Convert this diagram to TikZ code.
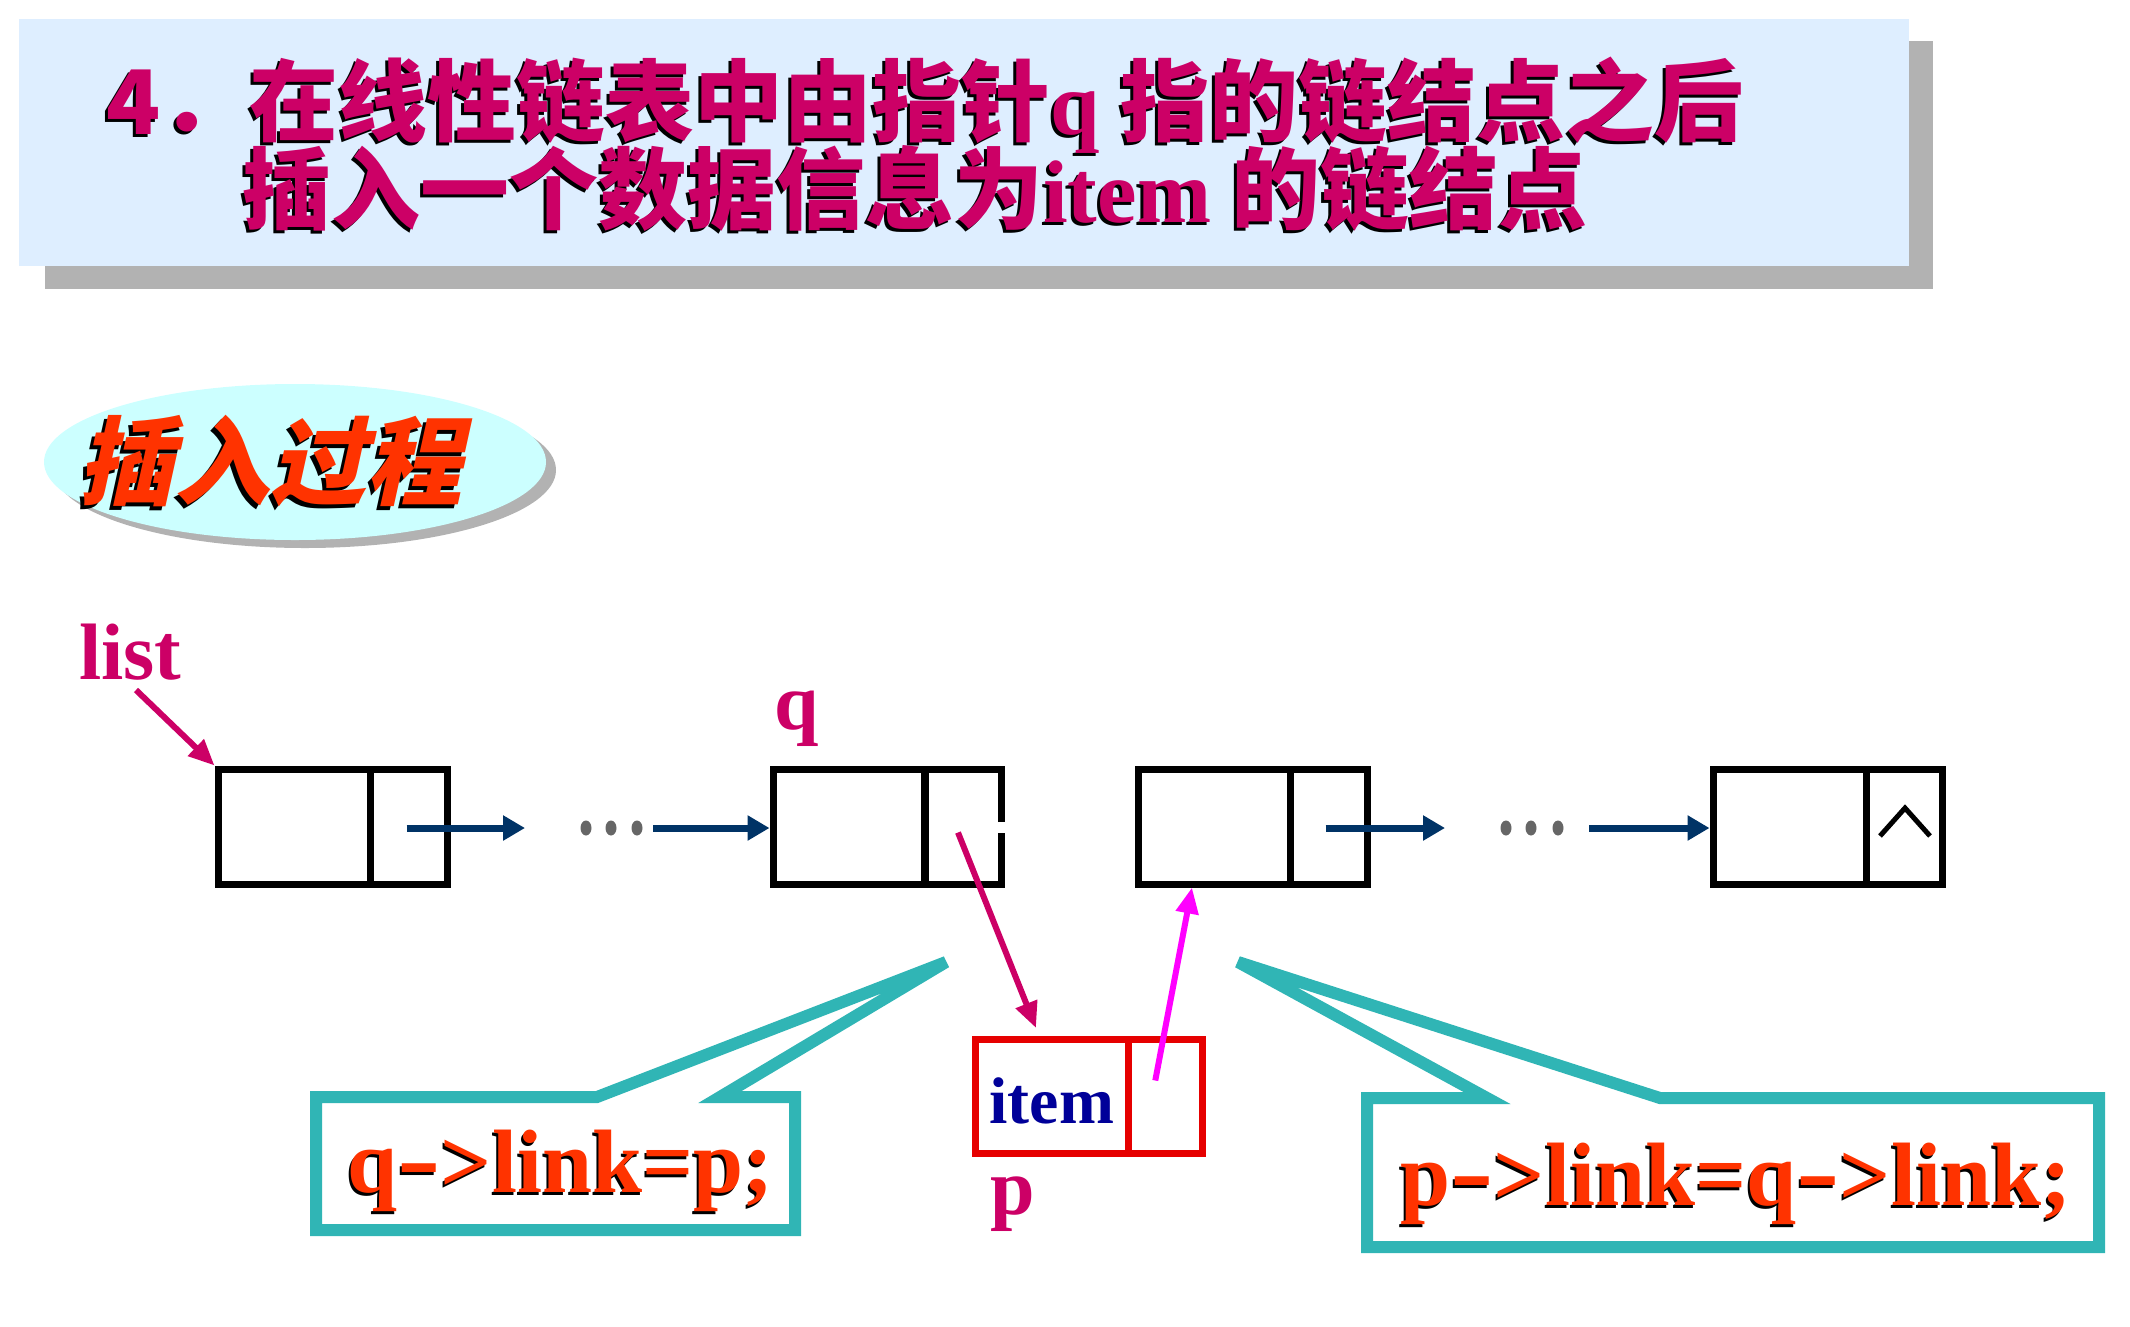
\documentclass[tikz,border=0pt]{standalone}
\usepackage{fontspec}
\setmainfont{Liberation Serif}
\newfontfamily\cjk{Noto Sans CJK SC}
\newfontfamily\cjksl[FakeSlant=0.22]{Noto Sans CJK SC}
\usetikzlibrary{arrows.meta,shapes.geometric}
\definecolor{titlebg}{HTML}{DEEEFF}
\definecolor{shadowgray}{HTML}{B2B2B2}
\definecolor{crimson}{HTML}{CC0066}
\definecolor{ovalbg}{HTML}{CCFFFF}
\definecolor{orangered}{HTML}{FF3300}
\definecolor{navy}{HTML}{003366}
\definecolor{tealc}{HTML}{30B5B5}
\definecolor{itemblue}{HTML}{000099}
\definecolor{boxred}{HTML}{E60000}
\definecolor{dotgray}{HTML}{666666}
\definecolor{pinkc}{HTML}{FF00FF}
\newcommand\wdash{\scalebox{1.45}[1.15]{-}}
\begin{document}
\begin{tikzpicture}[x=1pt,y=-1pt,
  cell/.style={draw=black,line width=7pt,minimum height=115pt,inner sep=0pt},
  datacell/.style={cell,minimum width=152pt},
  ptrcell/.style={cell,minimum width=77pt},
  redcell/.style={draw=boxred,line width=7pt,minimum height=114pt,inner sep=0pt},
  navyarr/.style={draw=navy,line width=7pt,-{Triangle[length=22pt,width=24pt]}},
  crimarr/.style={draw=crimson,line width=6pt,-{Triangle[length=26pt,width=22pt]}},
  pinkarr/.style={draw=pinkc,line width=6pt,-{Triangle[length=26pt,width=22pt]}},
  callout/.style={draw=tealc,fill=white,line width=12pt},
  titletxt/.style={anchor=base west,inner sep=0pt,font=\fontsize{89pt}{89pt}\selectfont\cjk\bfseries},
  ptrlabel/.style={anchor=base,inner sep=0pt,text=crimson,font=\fontsize{80pt}{80pt}\selectfont\bfseries},
  codetxt/.style={anchor=base west,inner sep=0pt,font=\fontsize{90pt}{90pt}\selectfont\bfseries},
  ovaltxt/.style={anchor=base,inner sep=0pt,font=\fontsize{96pt}{96pt}\selectfont\cjksl\bfseries},
  dot/.style={fill=dotgray}
]
\useasboundingbox (0,0) rectangle (2130,1326);
% title
\fill[shadowgray] (45,41) rectangle (1933,289);
\fill[titlebg] (19,19) rectangle (1909,266);
\node[titletxt,text=black] (t1s) at (103,137) {4．在线性链表中由指针{\rmfamily q} 指的链结点之后};
\node[titletxt,text=crimson] (t1) at (106,134) {4．在线性链表中由指针{\rmfamily q} 指的链结点之后};
\node[titletxt,text=black] (t2s) at (239,225) {插入一个数据信息为{\rmfamily item} 的链结点};
\node[titletxt,text=crimson] (t2) at (242,222) {插入一个数据信息为{\rmfamily item} 的链结点};
% oval
\fill[shadowgray] (305,470) ellipse [x radius=251pt,y radius=78pt];
\node[ellipse,fill=ovalbg,minimum width=502pt,minimum height=156pt,inner sep=0pt] (oval) at (295,462) {};
\node[ovaltxt,text=black] (ovs) at (266,501) {插入过程};
\node[ovaltxt,text=orangered] (ovt) at (270,497) {插入过程};
% list nodes
\node[datacell] (n1d) at (294,826.5) {};
\node[ptrcell] (n1p) at (408.5,826.5) {};
\node[datacell] (q1) at (849,826.5) {};
\node[ptrcell,draw=none,outer sep=0pt] (q2) at (963,826.5) {};
\draw[line width=7pt] ([yshift=4.5pt]q2.east) -- (q2.north east) -- (q2.north west) -- (q2.south west) -- (q2.south east) -- ([yshift=-6.5pt]q2.east);
\node[datacell] (n3d) at (1214,826.5) {};
\node[ptrcell] (n3p) at (1328.5,826.5) {};
\node[datacell,minimum width=153pt] (n4d) at (1789.5,826.5) {};
\node[ptrcell,minimum width=76pt] (n4p) at (1904,826.5) {};
\draw[line width=5pt] (1880,836) -- (1905,808) -- (1930,836);
% dots
\foreach \xx in {586,611,637} \fill[dot] (\xx,828) ellipse [x radius=5.5pt,y radius=7.5pt];
\foreach \xx in {1506,1531,1558} \fill[dot] (\xx,828) ellipse [x radius=5.5pt,y radius=7.5pt];
\coordinate (e1) at (525,828);
\coordinate (s2) at (653,828);
\coordinate (e3) at (1445,828);
\coordinate (s4) at (1589,828);
\draw[navyarr] ([xshift=-2pt,yshift=-1.5pt]n1p.center) -- (e1);
\draw[navyarr] (s2) -- (q1.west |- s2);
\draw[navyarr] ([xshift=-3pt,yshift=-1.5pt]n3p.center) -- (e3);
\draw[navyarr] (s4) -- (n4d.west |- s4);
% labels
\node[ptrlabel,anchor=base west] (list) at (79,679) {list};
\node[ptrlabel] (qlab) at (797,729) {q};
\coordinate (ls) at (136,690);
\draw[crimarr] (ls) -- (n1d.north west);
% new node
\node[redcell,minimum width=152.5pt,text=itemblue,font=\fontsize{66pt}{66pt}\selectfont\bfseries,text height=53pt,text depth=0pt] (itemd) at (1051.75,1096.5) {item};
\node[redcell,minimum width=74.5pt] (itemp) at (1165.25,1096.5) {};
\node[ptrlabel] (plab) at (1013,1214) {p};
\draw[crimarr] ([xshift=-5pt,yshift=-6pt]q2.center) -- ([xshift=-15.75pt,yshift=8pt]itemd.north);
\draw[pinkarr] ([xshift=-10pt,yshift=16pt]itemp.center) -- ([xshift=-22pt]n3d.south);
% callouts
\draw[callout] (316,1097) -- (597,1097) -- (946,962) -- (720,1097) -- (795,1097) -- (795,1230) -- (316,1230) -- cycle;
\node[codetxt,text=black] (c1s) at (345,1195) {q\wdash>link=p;};
\node[codetxt,text=orangered] (c1) at (347,1192) {q\wdash>link=p;};
\draw[callout] (1367,1098) -- (1487,1098) -- (1238,962) -- (1660,1098) -- (2099,1098) -- (2099,1247) -- (1367,1247) -- cycle;
\node[codetxt,text=black] (c2s) at (1398,1208) {p\wdash>link=q\wdash>link;};
\node[codetxt,text=orangered] (c2) at (1400,1205) {p\wdash>link=q\wdash>link;};
\end{tikzpicture}
\end{document}
